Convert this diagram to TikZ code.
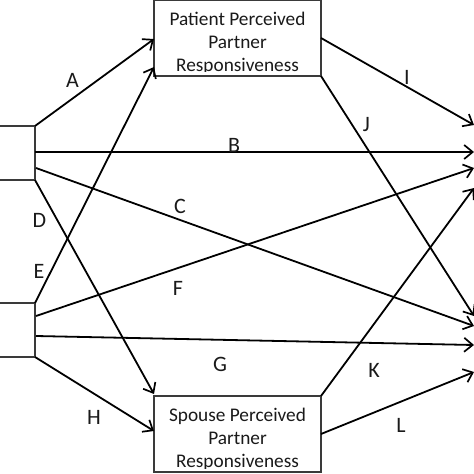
\documentclass[tikz,border=0pt]{standalone}
\usepackage{fontspec}
\setmainfont{Carlito}
\usetikzlibrary{arrows.meta,calc}
\definecolor{boxgray}{HTML}{3A3A3A}
\definecolor{txt}{HTML}{1A1A1A}
\begin{document}
\begin{tikzpicture}[x=1pt,y=-1pt,
  conn/.style={line width=1.8pt, -{Straight Barb[length=8.5pt,width=14pt,line width=1.7pt]}},
  box/.style={draw=boxgray, line width=1.2pt, outer sep=0pt, inner sep=0pt},
  boxtext/.style={font=\fontsize{19.3}{23}\selectfont, text=txt, align=center, inner sep=0pt},
  lbl/.style={font=\fontsize{22}{26}\selectfont, text=txt, inner sep=0pt}]
\clip (0,0) rectangle (474,474);
\fill[white] (0,0) rectangle (474,474);
% boxes
\node[box, minimum width=167pt, minimum height=76pt] (ptop) at (237.5,38) {};
\node[box, minimum width=167pt, minimum height=76pt] (pbot) at (237.5,434) {};
\node[box, minimum width=60pt, minimum height=54pt] (lt) at (5,153) {};
\node[box, minimum width=60pt, minimum height=54pt] (lb) at (5,330) {};
\begin{scope}
\clip (ptop.north west) rectangle ($(ptop.south east)+(0,-4.5)$);
\node[boxtext, anchor=north] (ptopt) at ($(ptop.north)+(0,11.5)$) {Patient Perceived\\Partner\\Responsiveness};
\end{scope}
\begin{scope}
\clip (pbot.north west) rectangle ($(pbot.south east)+(0,-4)$);
\node[boxtext, anchor=north] (pbott) at ($(pbot.north)+(0,11.5)$) {Spouse Perceived\\Partner\\Responsiveness};
\end{scope}
% right-hand ends
\coordinate (rI) at (474,125);
\coordinate (rB) at (474,152);
\coordinate (rF) at (474,168);
\coordinate (rK) at (474,188);
\coordinate (rJ) at (474,316);
\coordinate (rC) at (474,326);
\coordinate (rG) at (474,345);
\coordinate (rL) at (474,372);
% connectors
\draw[conn] (lt.north east) -- ($(ptop.north west)+(0,39)$);
\draw[conn] (lb.north east) -- ($(ptop.north west)+(0,67)$);
\draw[conn] ($(lt.north east)+(0,26)$) -- (rB);
\draw[conn] ($(lt.north east)+(1,42)$) -- (rC);
\draw[conn] (lt.south east) -- ($(pbot.north west)+(0,-2)$);
\draw[conn] ($(lb.north east)+(1,13)$) -- (rF);
\draw[conn] ($(lb.north east)+(1,33)$) -- (rG);
\draw[conn] (lb.south east) -- ($(pbot.north west)+(0,35)$);
\draw[conn] (ptop.east) -- (rI);
\draw[conn] (ptop.south east) -- (rJ);
\draw[conn] (pbot.north east) -- (rK);
\draw[conn] (pbot.east) -- (rL);
% labels
\node[lbl] (lA) at (72.5,80) {A};
\node[lbl] (lB) at (234,145) {B};
\node[lbl] (lC) at (180,206) {C};
\node[lbl] (lD) at (39.5,220) {D};
\node[lbl] (lE) at (39,271) {E};
\node[lbl] (lF) at (178,288) {F};
\node[lbl] (lG) at (220,364) {G};
\node[lbl] (lH) at (94,417) {H};
\node[lbl] (lI) at (407,77) {I};
\node[lbl] (lJ) at (366.5,125) {J};
\node[lbl] (lK) at (374,370) {K};
\node[lbl] (lL) at (401,425) {L};
\end{tikzpicture}
\end{document}
